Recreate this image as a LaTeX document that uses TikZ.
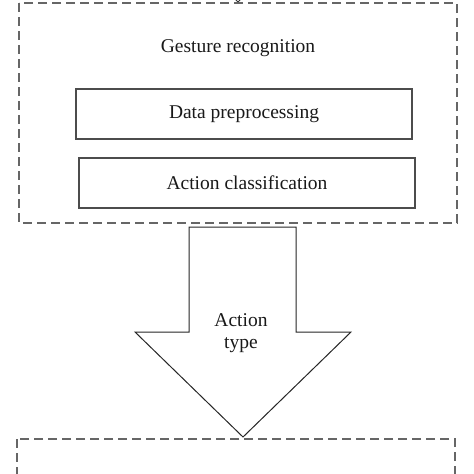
\documentclass[tikz,border=0pt]{standalone}
\usepackage{fontspec}
\setmainfont{Liberation Serif}
\begin{document}
\begin{tikzpicture}[x=1pt,y=-1pt,
  dashbox/.style={draw=black!60, line width=1.4pt, dash pattern=on 9pt off 5pt},
  procbox/.style={draw=black!70, line width=1.2pt},
  lbl/.style={font=\fontsize{19.5}{23}\selectfont, text=black!90, inner sep=0pt, align=center},
  arrowshape/.style={draw=black!85, line width=1pt, fill=white}]
\useasboundingbox (0,0) rectangle (474,474);
\begin{scope}
\clip (0,0) rectangle (474,474);
% tip of arrow from above
\draw[black!80, line width=1pt] (232,-4) coordinate (tl) -- (238,2) coordinate (tt) -- (244,-4) coordinate (tr);
\draw[dashbox] (19,3) rectangle (457,223);
\node[lbl] (gr) at (238,48) {Gesture recognition};
\draw[procbox] (76,89) rectangle (412,139);
\node[lbl] (dp) at (244,114) {Data preprocessing};
\draw[procbox] (79,158) rectangle (415,208);
\node[lbl] (ac) at (247,183) {Action classification};
% big arrow
\draw[arrowshape] (189,227) coordinate (s1) -- (296,227) coordinate (s2) -- (296,332) -- (351,332) -- (243,437) coordinate (tip) -- (135,332) -- (189,332) -- cycle;
\node[lbl] (at) at (241,333) {Action\\[-1pt]type};
\draw[dashbox] (17,439) rectangle (455,490);
\end{scope}
\end{tikzpicture}
\end{document}
